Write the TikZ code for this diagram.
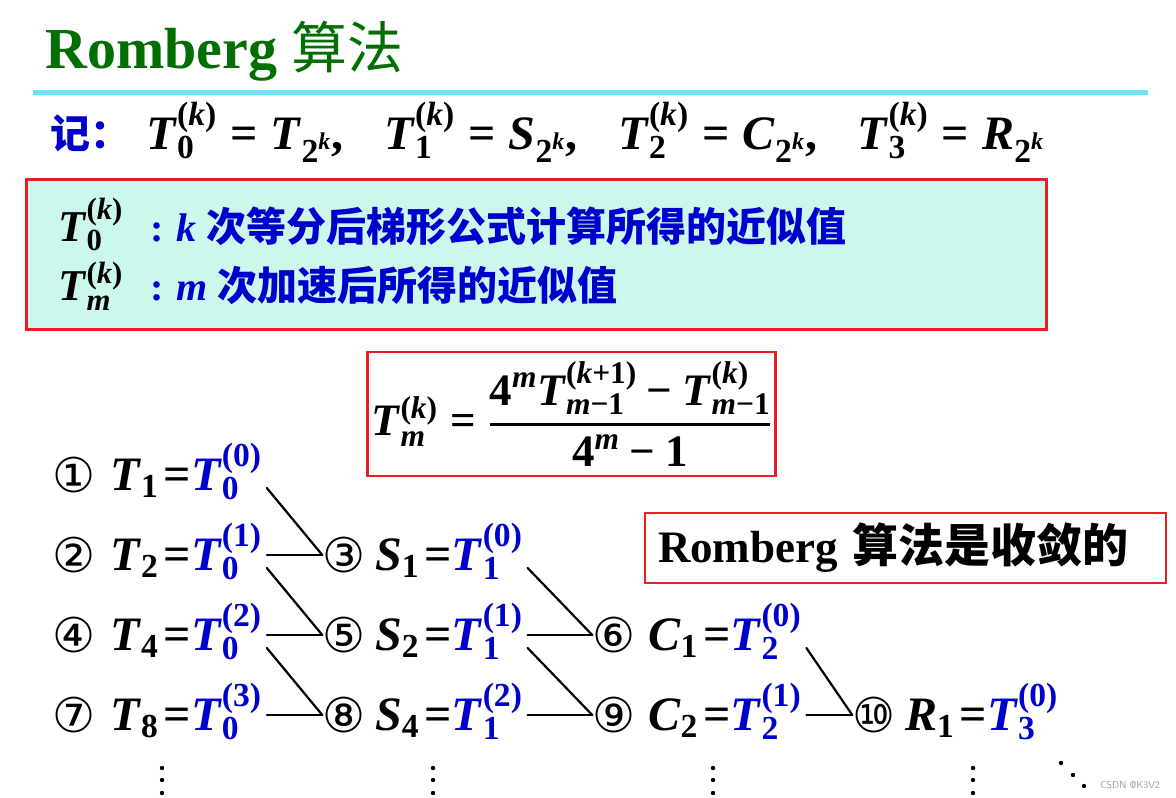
\documentclass[tikz,border=0pt]{standalone}
\usepackage{fix-cm}
\usepackage{amsmath}
\usepackage{fontspec}
\setmainfont{Liberation Serif}
\newfontfamily\cjk{Noto Sans CJK SC}
\newfontfamily\circfont{DejaVu Sans}

\definecolor{titlegreen}{RGB}{0,110,0}
\definecolor{textblue}{RGB}{0,0,205}
\definecolor{rulecyan}{RGB}{110,226,250}
\definecolor{boxmint}{RGB}{204,247,236}
\definecolor{boxred}{RGB}{236,28,36}

\newcommand\fsize[1]{\fontsize{#1pt}{#1pt}\selectfont}
\newcommand\bi[1]{\textbf{\textit{#1}}}
\newcommand\bd[1]{\textbf{#1}}
\newcommand\eqs{\mathrel{\textbf{=}}}
\newcommand\mns{\mathbin{\textbf{−}}}
\newcommand\supk{^{\bd{(}\bi{k}\bd{)}}}
\newcommand\gap{\hspace{0.85em}}

\begin{document}
\begin{tikzpicture}[x=1pt, y=-1pt,
  redbox/.style={draw=boxred, line width=2.5pt},
  txt/.style={anchor=base west, inner sep=0pt},
  circnum/.style={inner sep=0pt, font=\circfont\fsize{48}},
  link/.style={line width=2.2pt, line cap=round}]
\useasboundingbox (0,0) rectangle (1176,798);

% --- Title ---
\node[txt, text=titlegreen, font=\bfseries\fsize{58}] (title) at (45,68) {Romberg {\cjk\mdseries\fsize{56}算法}};
\draw[rulecyan, line width=5pt] (33,92.5) -- (1148,92.5);

% --- Notation line ---
\node[txt, text=textblue, font=\cjk\bfseries\fsize{40}] (notelabel) at (50,148) {记：};
\node[txt, font=\fsize{48}] (notefml) at (146,149) {$\bi{T}_{\bd0}\supk\eqs\bi{T}_{\bd2^{\bi k}}$\bd{,}\gap$\bi{T}_{\bd1}\supk\eqs\bi{S}_{\bd2^{\bi k}}$\bd{,}\gap$\bi{T}_{\bd2}\supk\eqs\bi{C}_{\bd2^{\bi k}}$\bd{,}\gap$\bi{T}_{\bd3}\supk\eqs\bi{R}_{\bd2^{\bi k}}$};

% --- Definition box ---
\node[redbox, fill=boxmint, anchor=north west, minimum width=1020pt, minimum height=150pt] (defbox) at (25,178) {};
\node[txt, font=\fsize{44}] (defk) at (58,241) {$\bi{T}_{\bd0}\supk$};
\node[txt, text=textblue, font=\bfseries\fsize{40}] (defktext) at (150,241) {: \bi{k} {\cjk 次等分后梯形公式计算所得的近似值}};
\node[txt, font=\fsize{44}] (defm) at (58,300) {$\bi{T}_{\bi m}\supk$};
\node[txt, text=textblue, font=\bfseries\fsize{40}] (defmtext) at (150,300) {: \bi{m} {\cjk 次加速后所得的近似值}};

% --- Recurrence formula ---
\node[redbox, inner sep=4pt, minimum width=407pt, minimum height=124pt, font=\fsize{45}] (recur) at (571.5,414) {$\bi{T}_{\bi m}\supk\eqs\genfrac{}{}{2.2pt}{0}{\bd4^{\bi m}\bi{T}_{\bi m\mns\bd1}^{\bd(\bi k\bd{+1)}}\mns\bi{T}_{\bi m\mns\bd1}\supk}{\bd4^{\bi m}\mns\bd1}$};

% --- Convergence note ---
\node[redbox, minimum height=70pt, text width=495pt, inner xsep=13pt, align=left, font=\bfseries\fsize{45}] (conv) at (905.5,548) {Romberg {\cjk\fsize{46}算法是收敛的}};

% --- Table of values ---
\foreach \idx/\sym/\cx/\ex/\by/\ltr/\lsub/\tsub/\tsup in {
    1/①/74/110/490/T/1/0/0,
    2/②/74/110/570/T/2/0/1,  3/③/344/375/570/S/1/1/0,
    4/④/74/110/650/T/4/0/2,  5/⑤/344/375/650/S/2/1/1,  6/⑥/614/648/650/C/1/2/0,
    7/⑦/74/110/730/T/8/0/3,  8/⑧/344/375/730/S/4/1/2,  9/⑨/614/648/730/C/2/2/1,
    10/⑩/874/905/730/R/1/3/0}{
    \node[circnum] (n\idx) at (\cx,\by-15) {\sym};
    \node[txt, font=\fsize{48}] (e\idx) at (\ex,\by) {$\bi{\ltr}_{\bd{\lsub}}\mkern2mu\bd{=}\textcolor{textblue}{\bi{T}_{\bd{\tsub}}^{\bd{(\tsup)}}}$};
}

% --- Connectors ---
\foreach \up/\lo/\dst in {1/2/3, 2/4/5, 4/7/8, 3/5/6, 5/8/9, 6/9/10} {
    \draw[link] (e\up.base east) ++(5pt,2pt) -- (n\dst.west);
    \draw[link] (e\lo.base east |- n\dst.west) ++(5pt,0pt) -- (n\dst.west);
}

% --- Dots ---
\foreach \x in {162,433,713,973}
    \foreach \y in {768,780,793}
        \fill (\x,\y) circle (2.2pt);
\foreach \x/\y in {1061/763, 1073/775, 1084/786}
    \fill (\x,\y) circle (2.2pt);

\node[font=\sffamily\fsize{10}, text=gray!80] (mark) at (1130,785) {CSDN @K3V2};

\end{tikzpicture}
\end{document}
